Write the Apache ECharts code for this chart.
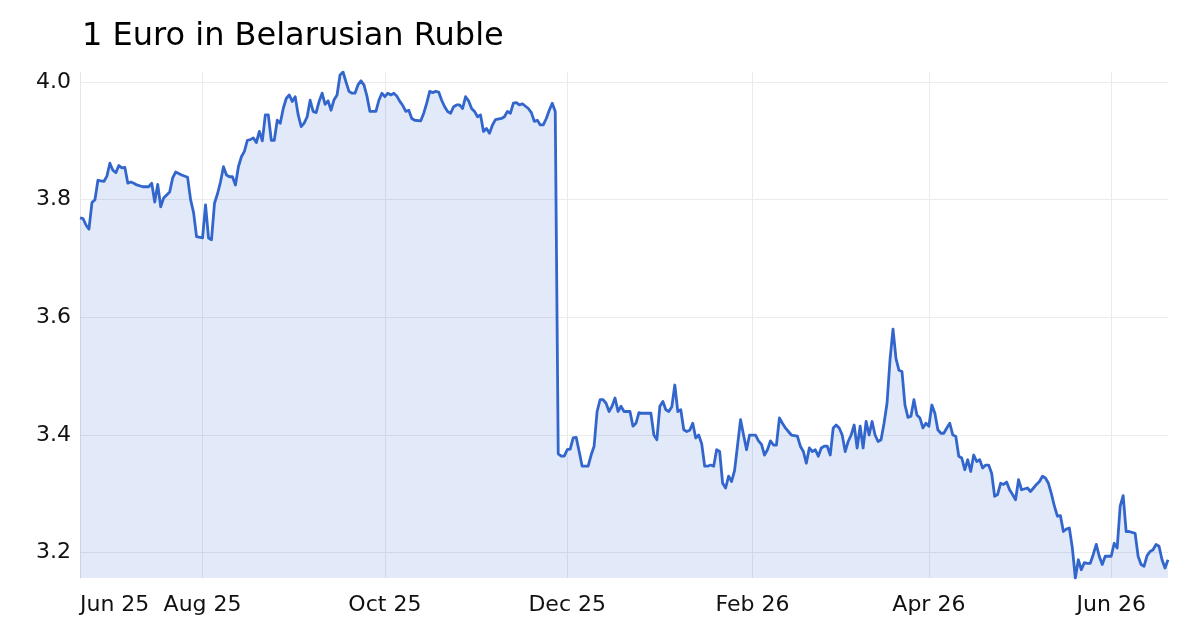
<!DOCTYPE html>
<html><head><meta charset="utf-8">
<script src="https://cdn.jsdelivr.net/npm/echarts@6/dist/echarts.min.js"></script>
<style>html,body{margin:0;padding:0;background:#fff}#c{width:1200px;height:630px}</style>
</head><body><div id="c"></div>
<script>
// Daily rates: 1 EUR in BYN, grouped by month (day-of-month list + matching rates)
const jun25Days  = [21,22,23,24,25,26,27,29,30];
const jun25Rates = [3.769,3.768,3.757,3.750,3.795,3.800,3.833,3.831,3.840];
const jul25Days  = [1,2,3,4,5,6,7,8,9,10,12,14,15,16,17,18,19,20,21,22,23,25,27,28,29,30];
const jul25Rates = [3.862,3.850,3.846,3.858,3.854,3.855,3.828,3.830,3.828,3.825,3.822,3.822,3.828,3.796,3.826,3.788,3.803,3.808,3.813,3.837,3.847,3.842,3.838,3.800,3.778,3.737];
const aug25Days  = [1,2,3,4,5,6,7,8,9,10,11,12,13,14,15,16,17,18,19,20,21,22,23,24,25,26,27,28,29,30,31];
const aug25Rates = [3.735,3.791,3.735,3.732,3.794,3.810,3.830,3.856,3.842,3.839,3.839,3.825,3.856,3.873,3.882,3.901,3.902,3.905,3.897,3.916,3.900,3.944,3.944,3.901,3.901,3.935,3.930,3.955,3.972,3.978,3.967];
const sep25Days  = [1,2,3,4,5,6,7,8,9,10,11,12,13,14,15,16,17,18,19,20,21,22,23,24,25,26,28,29,30];
const sep25Rates = [3.975,3.944,3.924,3.930,3.941,3.969,3.950,3.948,3.967,3.981,3.962,3.968,3.952,3.970,3.978,4.012,4.017,4.000,3.984,3.981,3.981,3.995,4.002,3.995,3.976,3.950,3.950,3.969,3.981];
const oct25Days  = [1,2,3,4,5,6,7,8,9,10,11,13,14,15,16,17,18,19,20,21,22,23,24,25,26,27,28,29,30,31];
const oct25Rates = [3.975,3.981,3.978,3.981,3.976,3.967,3.960,3.950,3.952,3.938,3.935,3.934,3.947,3.964,3.984,3.982,3.984,3.983,3.969,3.958,3.950,3.947,3.958,3.961,3.961,3.955,3.975,3.968,3.955,3.950];
const nov25Days  = [1,2,3,4,5,6,7,9,10,11,12,13,14,15,16,18,19,20,21,22,23,24,25,26,27,28,29,30];
const nov25Rates = [3.941,3.944,3.916,3.921,3.913,3.927,3.936,3.938,3.941,3.950,3.947,3.964,3.965,3.961,3.963,3.955,3.948,3.933,3.935,3.927,3.927,3.938,3.952,3.964,3.950,3.368,3.364,3.364];
const dec25Days  = [1,2,3,4,5,6,8,9,10,11,12,13,14,15,16,17,18,19,20,22,23,24,25,26,29,30,31];
const dec25Rates = [3.375,3.376,3.395,3.396,3.372,3.347,3.347,3.366,3.381,3.440,3.460,3.460,3.454,3.440,3.449,3.463,3.440,3.449,3.440,3.440,3.415,3.420,3.438,3.437,3.437,3.400,3.392];
const jan26Days  = [1,2,3,4,5,6,7,8,9,10,11,12,13,14,15,16,17,18,19,20,21,22,23,24,25,26,27,28,29,30,31];
const jan26Rates = [3.449,3.457,3.443,3.440,3.448,3.485,3.440,3.443,3.409,3.406,3.408,3.420,3.395,3.400,3.385,3.347,3.347,3.349,3.347,3.375,3.372,3.318,3.310,3.330,3.321,3.340,3.383,3.426,3.400,3.375,3.400];
const feb26Days  = [2,3,4,5,6,7,8,9,10,11,12,13,14,16,17,18,19,20,21,22,23,24,25,26,27,28];
const feb26Rates = [3.400,3.390,3.384,3.366,3.375,3.390,3.383,3.383,3.429,3.420,3.412,3.406,3.400,3.398,3.381,3.372,3.352,3.378,3.372,3.375,3.364,3.378,3.381,3.381,3.366,3.412];
const mar26Days  = [1,2,3,4,5,6,7,8,9,10,11,12,13,14,15,16,17,18,19,20,21,22,23,24,25,26,27,28,29,30,31];
const mar26Rates = [3.417,3.412,3.400,3.372,3.389,3.400,3.417,3.378,3.415,3.378,3.423,3.400,3.423,3.400,3.389,3.392,3.420,3.454,3.528,3.580,3.530,3.510,3.508,3.451,3.430,3.432,3.460,3.434,3.429,3.412,3.420];
const apr26Days  = [1,2,3,4,5,6,7,8,9,10,11,12,13,14,15,16,17,18,19,20,21,22,23,24,25,26,27,28,29,30];
const apr26Rates = [3.415,3.451,3.437,3.409,3.403,3.403,3.412,3.420,3.400,3.398,3.364,3.361,3.341,3.358,3.338,3.366,3.355,3.358,3.344,3.349,3.349,3.335,3.296,3.299,3.318,3.316,3.320,3.307,3.299,3.290];
const may26Days  = [1,2,4,5,6,7,8,9,10,11,12,13,14,15,16,17,18,19,20,21,22,23,24,25,26,27,28,29,30];
const may26Rates = [3.324,3.307,3.310,3.304,3.310,3.316,3.321,3.330,3.327,3.318,3.300,3.279,3.262,3.263,3.236,3.240,3.242,3.208,3.157,3.188,3.171,3.183,3.182,3.182,3.197,3.214,3.194,3.180,3.194];
const jun26Days  = [1,2,3,4,5,6,7,9,10,11,12,13,14,15,16,17,18,19,20];
const jun26Rates = [3.194,3.216,3.208,3.279,3.297,3.236,3.236,3.233,3.194,3.180,3.177,3.195,3.202,3.205,3.214,3.211,3.188,3.174,3.188];

const yTickValues = [3.2, 3.4, 3.6, 3.8, 4.0];
const xTickDates  = [[2025,8,1],[2025,10,1],[2025,12,1],[2026,2,1],[2026,4,1],[2026,6,1]];
const xStartDate  = [2025,6,21];
const xEndDate    = [2026,6,20];
const yMin = 3.157, yMax = 4.017;
const MONTH_NAMES = ['Jan','Feb','Mar','Apr','May','Jun','Jul','Aug','Sep','Oct','Nov','Dec'];

const monthBlocks = [
  [2025,6,jun25Days,jun25Rates],[2025,7,jul25Days,jul25Rates],[2025,8,aug25Days,aug25Rates],
  [2025,9,sep25Days,sep25Rates],[2025,10,oct25Days,oct25Rates],[2025,11,nov25Days,nov25Rates],
  [2025,12,dec25Days,dec25Rates],[2026,1,jan26Days,jan26Rates],[2026,2,feb26Days,feb26Rates],
  [2026,3,mar26Days,mar26Rates],[2026,4,apr26Days,apr26Rates],[2026,5,may26Days,may26Rates],
  [2026,6,jun26Days,jun26Rates]
];
const ts = (a) => Date.UTC(a[0], a[1]-1, a[2]);
const seriesData = [];
monthBlocks.forEach(([y, m, days, rates]) => {
  days.forEach((d, i) => seriesData.push([Date.UTC(y, m-1, d), rates[i]]));
});

const FONT = 'DejaVu Sans';
const chart = echarts.init(document.getElementById('c'), null, {renderer: 'canvas'});
chart.setOption({
  animation: false,
  backgroundColor: '#ffffff',
  title: {
    text: '1 Euro in Belarusian Ruble',
    left: 77, top: 16,
    textStyle: {fontFamily: FONT, fontSize: 32, fontWeight: 'normal', color: '#000000'}
  },
  grid: {left: 80, right: 32, top: 72, bottom: 52, containLabel: false, outerBoundsMode: 'none'},
  xAxis: {
    type: 'value',
    min: ts(xStartDate), max: ts(xEndDate),
    axisLine: {show: false},
    axisTick: {show: false, customValues: xTickDates.map(ts)},
    splitLine: {show: true, lineStyle: {color: '#ebebeb', width: 1}},
    axisLabel: {
      customValues: [ts(xStartDate)].concat(xTickDates.map(ts)),
      alignMinLabel: 'left',
      margin: 16,
      fontFamily: FONT, fontSize: 22, color: '#111111',
      formatter: (v) => { const d = new Date(v); return MONTH_NAMES[d.getUTCMonth()] + ' ' + String(d.getUTCFullYear()).slice(2); }
    }
  },
  yAxis: {
    type: 'value',
    min: yMin, max: yMax,
    axisLine: {show: true, lineStyle: {color: '#e6e6e6', width: 1}},
    axisTick: {show: false, customValues: yTickValues},
    splitLine: {show: true, lineStyle: {color: '#ebebeb', width: 1}},
    axisLabel: {
      customValues: yTickValues,
      margin: 9,
      fontFamily: FONT, fontSize: 22, color: '#111111',
      formatter: (v) => v.toFixed(1)
    }
  },
  series: [{
    type: 'line',
    data: seriesData,
    showSymbol: false,
    lineStyle: {color: '#3366cc', width: 2.8, join: 'round'},
    itemStyle: {color: '#3366cc'},
    areaStyle: {color: 'rgba(51,102,204,0.20)', origin: 'start'}
  }]
});
</script></body></html>
